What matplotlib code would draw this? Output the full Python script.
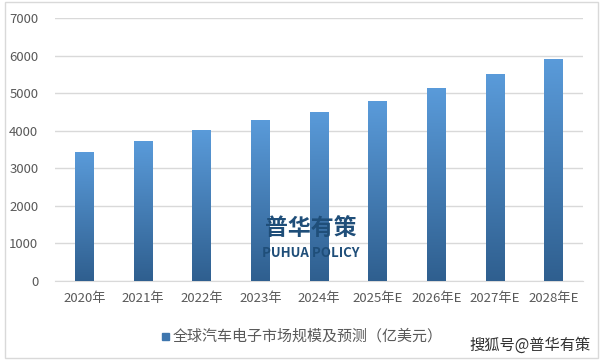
import numpy as np
import matplotlib.pyplot as plt
from matplotlib.colors import LinearSegmentedColormap
from matplotlib.patches import Rectangle

plt.rcParams['font.family'] = ['Noto Sans CJK SC', 'DejaVu Sans']

years = ['2020年', '2021年', '2022年', '2023年', '2024年',
         '2025年E', '2026年E', '2027年E', '2028年E']
market = [3440, 3730, 4020, 4290, 4500, 4790, 5140, 5510, 5910]
label = '全球汽车电子市场规模及预测（亿美元）'

fig = plt.figure(figsize=(6.01, 3.61), dpi=100)
ax = fig.add_axes([0.0915, 0.2216, 0.8785, 0.7284])

x = np.arange(len(years))
bars = ax.bar(x, market, width=0.32, color='none', edgecolor='none', zorder=3)

# vertical gradient inside each bar
cmap = LinearSegmentedColormap.from_list('g', ['#2F5F8F', '#5A9BDA'])
grad = np.linspace(0, 1, 256).reshape(-1, 1)
for b in bars:
    x0, w, h = b.get_x(), b.get_width(), b.get_height()
    im = ax.imshow(grad, cmap=cmap, origin='lower', aspect='auto',
                   extent=[x0, x0 + w, 0, h], zorder=3)
    im.set_clip_path(b)

ax.set_xlim(-0.5, len(years) - 0.5)
ax.set_ylim(0, 7000)
ax.set_yticks(range(0, 7001, 1000))
ax.set_xticks(x)
ax.set_xticklabels(years)
ax.grid(axis='y', color='#D9D9D9', linewidth=1, zorder=0)
ax.set_axisbelow(True)
for s in ['top', 'right', 'left']:
    ax.spines[s].set_visible(False)
ax.spines['bottom'].set_color('#D9D9D9')
ax.tick_params(axis='both', length=0, colors='#595959', labelsize=9.5)
ax.tick_params(axis='y', pad=12)
ax.tick_params(axis='x', pad=8)

# legend
fig.patches.append(Rectangle((162 / 601, 1 - 340 / 361), 7 / 601, 7 / 361,
                             transform=fig.transFigure, color='#3E76AE'))
fig.text(173 / 601, 1 - 336 / 361, label, fontsize=10.8, color='#595959',
         va='center', ha='left')

# watermarks
fig.text(311 / 601, 1 - 228 / 361, '普华有策', fontsize=16.5, color='#1F4E79',
         fontweight='bold', ha='center', va='center', zorder=5)
fig.text(311 / 601, 1 - 253 / 361, 'PUHUA POLICY', fontsize=9.5, color='#1F4E79',
         fontweight='bold', ha='center', va='center', zorder=5)
fig.text(530 / 601, 1 - 345 / 361, '搜狐号@普华有策', fontsize=11, color='#333333',
         ha='center', va='center')

# outer frame
fig.patches.append(Rectangle((5 / 601, 3 / 361), 593 / 601, 356 / 361,
                             transform=fig.transFigure, fill=False,
                             edgecolor='#D9D9D9', linewidth=1))

fig.savefig('out.png', dpi=100)
